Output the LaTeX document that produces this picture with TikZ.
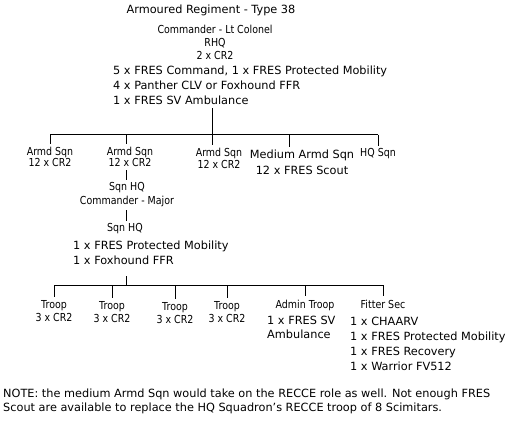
\documentclass[tikz,border=0pt]{standalone}
\usepackage{fontspec}
\setmainfont{DejaVu Sans}
\newfontfamily\narrowfont[FakeStretch=0.86]{DejaVu Sans}

\begin{document}
\begin{tikzpicture}[x=1pt,y=-1pt,
  small/.style={inner xsep=0pt,inner ysep=3pt,align=center,
    font=\narrowfont\fontsize{11}{13}\selectfont},
  big/.style={inner xsep=0pt,inner ysep=3pt,align=left,
    font=\fontsize{11.3}{15}\selectfont},
  link/.style={draw,line width=1pt}]
\useasboundingbox (0,0) rectangle (518,427);

% regiment HQ
\node[big,anchor=base] (title) at (211,14) {Armoured Regiment - Type 38};
\node[small,anchor=base] (rhq) at (215,60) {Commander - Lt Colonel\\RHQ\\2 x CR2};
\node[big,anchor=base west] (rhqkit) at (113,105) {5 x FRES Command, 1 x FRES Protected Mobility\\4 x Panther CLV or Foxhound FFR\\1 x FRES SV Ambulance};

% squadrons
\coordinate (hub) at (212,135);
\coordinate (col) at (126,135);
\coordinate (medtop) at (289,135);
\node[small,anchor=base] (sqnA) at (50,167) {Armd Sqn\\[-2pt]12 x CR2};
\node[small,anchor=base] (sqnB) at (130,167) {Armd Sqn\\[-2pt]12 x CR2};
\node[small,anchor=base] (sqnC) at (219,169) {Armd Sqn\\[-1pt]12 x CR2};
\node[big,align=center,anchor=base] (medsqn) at (302,175) {Medium Armd Sqn\\[1pt]12 x FRES Scout};
\node[small,anchor=base] (hqsqn) at (378,157) {HQ Sqn};

\draw[link] (hub |- rhqkit.south) -- (hub);
\draw[link] (sqnA.north |- hub) -- (hqsqn.north |- hub);
\foreach \n in {sqnA,hqsqn}
  \draw[link] (\n.north |- hub) -- (\n.north);
\draw[link] (hub) -- (hub |- sqnC.north);
\draw[link] (col) -- (col |- sqnB.north);
\draw[link] (medtop) -- (medtop |- medsqn.north);

% squadron HQ
\node[small,anchor=base] (sqnhq) at (127,205) {Sqn HQ\\[1pt]Commander - Major};
\node[small,anchor=base] (hqcell) at (125,232) {Sqn HQ};
\node[big,anchor=base west] (hqkit) at (73,264) {1 x FRES Protected Mobility\\1 x Foxhound FFR};
\draw[link] (col |- sqnB.south) -- (col |- sqnhq.north);
\draw[link] (col |- sqnhq.south) -- (col |- hqcell.north);

% troops
\coordinate (thub) at (126,285);
\draw[link,shorten <=9pt] (col |- hqkit.south) -- (thub);
\node[small,anchor=base] (tp1) at (54,321) {Troop\\3 x CR2};
\node[small,anchor=base] (tp2) at (112,322) {Troop\\3 x CR2};
\node[small,anchor=base] (tp3) at (175,323) {Troop\\3 x CR2};
\node[small,anchor=base] (tp4) at (227,322) {Troop\\3 x CR2};
\node[small,anchor=base] (admin) at (305,308) {Admin Troop};
\node[big,anchor=base west] (adminkit) at (267,338) {1 x FRES SV\\[-1pt]Ambulance};
\node[small,anchor=base] (fitter) at (383,308) {Fitter Sec};
\node[big,anchor=base west] (fitterkit) at (350,370) {1 x CHAARV\\1 x FRES Protected Mobility\\1 x FRES Recovery\\1 x Warrior FV512};

\draw[link] (tp1.north |- thub) -- (fitter.north |- thub);
\foreach \n in {tp1,tp2,tp3,tp4,admin,fitter}
  \draw[link] (\n.north |- thub) -- (\n.north);

% note
\node[big,anchor=base west] (note) at (3,411) {NOTE: the medium Armd Sqn would take on the RECCE role as well. Not enough FRES\\[-1pt]Scout are available to replace the HQ Squadron's RECCE troop of 8 Scimitars.};
\end{tikzpicture}
\end{document}
